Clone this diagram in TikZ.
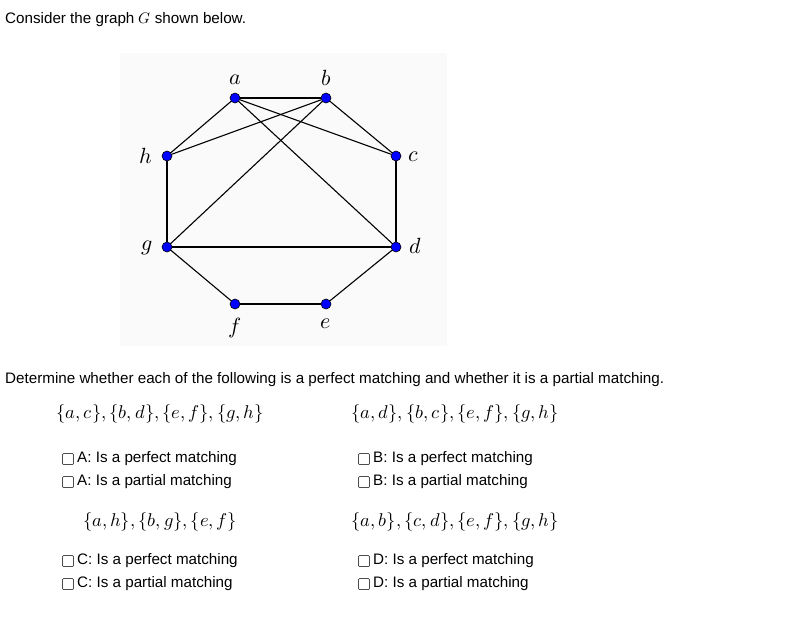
\documentclass[tikz,border=0pt]{standalone}
\usepackage{fontspec}
\setmainfont{Liberation Sans}
\usepackage{unicode-math}
\setmathfont{Latin Modern Math}
\begin{document}
\begin{tikzpicture}[x=1pt,y=-1pt,
  vtx/.style={circle,fill=blue,draw=black,line width=0.6pt,inner sep=0pt,minimum size=10pt},
  lbl/.style={font=\fontsize{22}{22}\selectfont},
  setl/.style={font=\fontsize{18.5}{18.5}\selectfont},
  txt/.style={anchor=west,font=\fontsize{15.2}{17}\selectfont,inner sep=0pt},
  cb/.style={draw=black!70,fill=white,line width=0.7pt,minimum size=11pt,inner sep=0pt,rounded corners=1pt},
  edge/.style={line width=1.1pt}]
\useasboundingbox (0,0) rectangle (792,625);
\fill[black!2] (120,53) rectangle (447,346);
\node[txt] (t1) at (5,20) {Consider the graph $G$ shown below.};
\node[vtx] (a) at (235,98) {};
\node[vtx] (b) at (326,98) {};
\node[vtx] (c) at (396,156) {};
\node[vtx] (d) at (396,247) {};
\node[vtx] (e) at (326,304) {};
\node[vtx] (f) at (235,304) {};
\node[vtx] (g) at (167,247) {};
\node[vtx] (h) at (167,156) {};
\node[lbl] (la) at (235,80) {$a$};
\node[lbl] (lb) at (326,78) {$b$};
\node[lbl] (lc) at (414,157) {$c$};
\node[lbl] (ld) at (415,246) {$d$};
\node[lbl] (le) at (326,324) {$e$};
\node[lbl] (lf) at (235,328) {$f$};
\node[lbl] (lg) at (147,248) {$g$};
\node[lbl] (lh) at (146,156) {$h$};
\foreach \u/\v in {a/b,a/h,a/c,a/d,b/h,b/g,b/c,c/d,d/g,d/e,e/f,f/g,g/h}
  \draw[edge] (\u) -- (\v);
\node[txt] (t2) at (5,380) {Determine whether each of the following is a perfect matching and whether it is a partial matching.};
\node[setl] (s1) at (160,414) {$\{a,c\},\{b,d\},\{e,f\},\{g,h\}$};
\node[setl] (s2) at (455,414) {$\{a,d\},\{b,c\},\{e,f\},\{g,h\}$};
\node[setl] (s3) at (160,522) {$\{a,h\},\{b,g\},\{e,f\}$};
\node[setl] (s4) at (455,522) {$\{a,b\},\{c,d\},\{e,f\},\{g,h\}$};
\foreach \n/\x/\y/\t in {A1/68/459/{A: Is a perfect matching},A2/68/482/{A: Is a partial matching},
  B1/364/459/{B: Is a perfect matching},B2/364/482/{B: Is a partial matching},
  C1/68/561/{C: Is a perfect matching},C2/68/584/{C: Is a partial matching},
  D1/364/561/{D: Is a perfect matching},D2/364/584/{D: Is a partial matching}}{
  \node[cb] (box\n) at (\x,\y) {};
  \node[txt] (lab\n) at (\x+9,\y) {\t};
}
\end{tikzpicture}
\end{document}
